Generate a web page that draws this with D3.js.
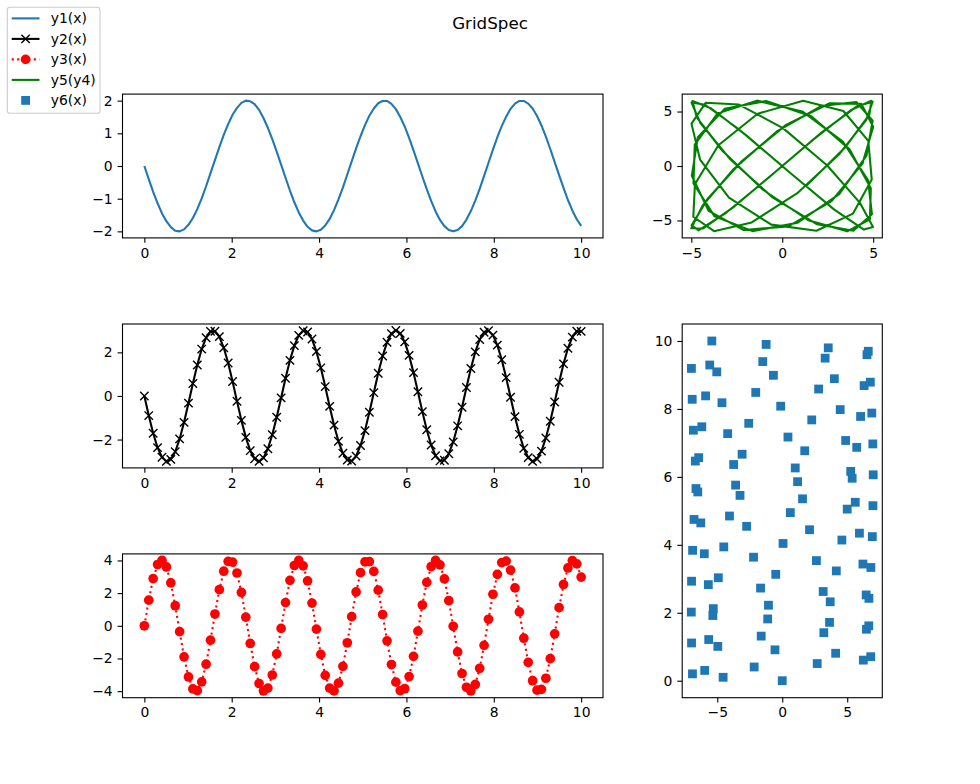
<!DOCTYPE html>
<html>
<head>
<meta charset="utf-8">
<script src="https://cdn.jsdelivr.net/npm/d3@7"></script>
<style>
  body { margin: 0; background: #fff; }
  svg text { font-family: "DejaVu Sans", sans-serif; }
</style>
</head>
<body>
<svg id="chart" width="980" height="784"></svg>
<script>
// sample positions shared by every series
const xs = [0, 0.101, 0.202, 0.303, 0.404, 0.505, 0.606, 0.707, 0.808, 0.909,
  1.010, 1.111, 1.212, 1.313, 1.414, 1.515, 1.616, 1.717, 1.818, 1.919,
  2.020, 2.121, 2.222, 2.323, 2.424, 2.525, 2.626, 2.727, 2.828, 2.929,
  3.030, 3.131, 3.232, 3.333, 3.434, 3.535, 3.636, 3.737, 3.838, 3.939,
  4.040, 4.141, 4.242, 4.343, 4.444, 4.545, 4.646, 4.747, 4.848, 4.949,
  5.051, 5.152, 5.253, 5.354, 5.455, 5.556, 5.657, 5.758, 5.859, 5.960,
  6.061, 6.162, 6.263, 6.364, 6.465, 6.566, 6.667, 6.768, 6.869, 6.970,
  7.071, 7.172, 7.273, 7.374, 7.475, 7.576, 7.677, 7.778, 7.879, 7.980,
  8.081, 8.182, 8.283, 8.384, 8.485, 8.586, 8.687, 8.788, 8.889, 8.990,
  9.091, 9.192, 9.293, 9.394, 9.495, 9.596, 9.697, 9.798, 9.899, 10];

const y1 = [0, -0.40, -0.79, -1.14, -1.45, -1.69, -1.87, -1.98, -2.00, -1.94,
  -1.80, -1.59, -1.32, -0.99, -0.62, -0.22, 0.18, 0.58, 0.95, 1.28,
  1.57, 1.78, 1.93, 2.00, 1.98, 1.89, 1.72, 1.47, 1.17, 0.82,
  0.44, 0.04, -0.36, -0.75, -1.11, -1.42, -1.67, -1.86, -1.97, -2.00,
  -1.95, -1.82, -1.62, -1.35, -1.02, -0.66, -0.26, 0.14, 0.54, 0.91,
  1.25, 1.54, 1.76, 1.92, 1.99, 1.99, 1.90, 1.74, 1.50, 1.21,
  0.86, 0.48, 0.08, -0.32, -0.71, -1.07, -1.39, -1.65, -1.84, -1.96,
  -2.00, -1.96, -1.84, -1.64, -1.38, -1.06, -0.70, -0.30, 0.10, 0.50,
  0.88, 1.22, 1.51, 1.75, 1.91, 1.99, 1.99, 1.91, 1.76, 1.53,
  1.24, 0.90, 0.52, 0.12, -0.28, -0.67, -1.04, -1.36, -1.63, -1.83];

const y2 = [0, -0.90, -1.71, -2.37, -2.81, -3.00, -2.91, -2.56, -1.97, -1.21,
  -0.33, 0.57, 1.42, 2.15, 2.67, 2.96, 2.97, 2.72, 2.21, 1.51,
  0.66, -0.24, -1.12, -1.90, -2.51, -2.88, -3.00, -2.84, -2.42, -1.78,
  -0.98, -0.09, 0.81, 1.63, 2.31, 2.78, 2.99, 2.93, 2.61, 2.04,
  1.29, 0.43, -0.48, -1.34, -2.08, -2.63, -2.94, -2.99, -2.76, -2.27,
  -1.59, -0.75, 0.15, 1.04, 1.83, 2.46, 2.86, 3.00, 2.87, 2.48,
  1.86, 1.07, 0.19, -0.72, -1.55, -2.25, -2.74, -2.98, -2.95, -2.65,
  -2.11, -1.37, -0.52, 0.39, 1.26, 2.02, 2.59, 2.92, 2.99, 2.79,
  2.33, 1.66, 0.84, -0.06, -0.95, -1.76, -2.40, -2.83, -3.00, -2.89,
  -2.53, -1.93, -1.16, -0.28, 0.63, 1.47, 2.19, 2.70, 2.97, 2.96];

const y3 = [0, 1.57, 2.89, 3.75, 4.00, 3.60, 2.63, 1.23, -0.36, -1.90,
  -3.13, -3.86, -3.97, -3.43, -2.35, -0.88, 0.72, 2.21, 3.34, 3.94,
  3.90, 3.23, 2.04, 0.53, -1.08, -2.50, -3.53, -3.99, -3.81, -3.01,
  -1.72, -0.16, 1.42, 2.78, 3.69, 4.00, 3.67, 2.75, 1.39, -0.20,
  -1.75, -3.03, -3.81, -3.98, -3.51, -2.48, -1.04, 0.56, 2.07, 3.25,
  3.91, 3.93, 3.33, 2.18, 0.69, -0.92, -2.37, -3.45, -3.97, -3.85,
  -3.11, -1.87, -0.33, 1.27, 2.66, 3.62, 4.00, 3.73, 2.87, 1.54,
  -0.03, -1.60, -2.92, -3.76, -3.99, -3.59, -2.60, -1.20, 0.40, 1.93,
  3.15, 3.87, 3.96, 3.41, 2.32, 0.85, -0.76, -2.24, -3.36, -3.94,
  -3.89, -3.21, -2.01, -0.49, 1.11, 2.53, 3.54, 3.99, 3.79, 2.98];

const y4 = [0, -2.42, -4.24, -4.99, -4.50, -2.89, -0.56, 1.92, 3.91, 4.93,
  4.72, 3.33, 1.10, -1.39, -3.54, -4.81, -4.88, -3.72, -1.64, 0.85,
  3.13, 4.63, 4.97, 4.07, 2.16, -0.30, -2.68, -4.39, -5.00, -4.37,
  -2.64, -0.26, 2.19, 4.10, 4.97, 4.61, 3.10, 0.81, -1.68, -3.75,
  -4.89, -4.80, -3.51, -1.35, 1.15, 3.36, 4.73, 4.92, 3.89, 1.88,
  -0.60, -2.93, -4.52, -4.99, -4.21, -2.38, 0.04, 2.46, 4.26, 4.99,
  4.49, 2.86, 0.51, -1.96, -3.94, -4.94, -4.70, -3.29, -1.06, 1.43,
  3.57, 4.82, 4.87, 3.69, 1.60, -0.89, -3.16, -4.64, -4.97, -4.05,
  -2.12, 0.34, 2.71, 4.41, 5.00, 4.35, 2.61, 0.21, -2.23, -4.12,
  -4.98, -4.60, -3.07, -0.77, 1.72, 3.78, 4.90, 4.79, 3.48, 1.31];

const y5 = [0, 3.42, 5.62, 5.82, 3.95, 0.67, -2.85, -5.35, -5.95, -4.42,
  -1.32, 2.25, 5.01, 6.00, 4.85, 1.97, -1.61, -4.62, -5.98, -5.21,
  -2.59, 0.96, 4.17, 5.88, 5.51, 3.17, -0.30, -3.66, -5.72, -5.74,
  -3.72, -0.37, 3.11, 5.48, 5.90, 4.22, 1.03, -2.52, -5.18, -5.98,
  -4.66, -1.68, 1.90, 4.80, 6.00, 5.05, 2.31, -1.25, -4.37, -5.94,
  -5.38, -2.91, 0.59, 3.89, 5.80, 5.64, 3.48, 0.07, -3.36, -5.59,
  -5.84, -4.00, -0.74, 2.79, 5.32, 5.96, 4.47, 1.40, -2.18, -4.98,
  -6.00, -4.89, -2.04, 1.55, 4.57, 5.97, 5.25, 2.65, -0.89, -4.12,
  -5.88, -5.54, -3.23, 0.22, 3.60, 5.70, 5.76, 3.77, 0.44, -3.05,
  -5.45, -5.91, -4.27, -1.10, 2.45, 5.14, 5.99, 4.71, 1.75, -1.83];

const y6 = [0, -4.55, -6.91, -5.97, -2.16, 2.69, 6.24, 6.81, 4.11, -0.56,
  -4.96, -6.98, -5.66, -1.62, 3.20, 6.48, 6.66, 3.64, -1.12, -5.34,
  -7.00, -5.31, -1.06, 3.69, 6.67, 6.46, 3.15, -1.67, -5.69, -6.98,
  -4.92, -0.50, 4.16, 6.82, 6.21, 2.63, -2.21, -6.00, -6.90, -4.50,
  0.06, 4.59, 6.93, 5.94, 2.10, -2.74, -6.27, -6.79, -4.06, 0.62,
  5.00, 6.98, 5.62, 1.56, -3.25, -6.50, -6.64, -3.59, 1.18, 5.38,
  7.00, 5.27, 1.00, -3.74, -6.69, -6.43, -3.09, 1.73, 5.73, 6.97,
  4.88, 0.44, -4.20, -6.84, -6.19, -2.58, 2.27, 6.03, 6.89, 4.46,
  -0.12, -4.64, -6.93, -5.90, -2.04, 2.80, 6.30, 6.78, 4.01, -0.68,
  -5.04, -6.99, -5.58, -1.50, 3.30, 6.52, 6.62, 3.54, -1.24, -5.42];

const legendLabels = ["y1(x)", "y2(x)", "y3(x)", "y5(y4)", "y6(x)"];
const xTicksLeft = [0, 2, 4, 6, 8, 10];
const yTicks1 = [-2, -1, 0, 1, 2];
const yTicks2 = [-2, 0, 2];
const yTicks3 = [-4, -2, 0, 2, 4];
const ticksLissajous = [-5, 0, 5];
const xTicksScatter = [-5, 0, 5];
const yTicksScatter = [0, 2, 4, 6, 8, 10];

const BLUE = "#1f77b4";
const FS = 13.9;

const svg = d3.select("#chart");
svg.append("rect").attr("width", 980).attr("height", 784).attr("fill", "#fff");

const fmt = d => d < 0 ? "\u2212" + Math.abs(d) : String(d);

function panel(box, xDom, yDom, xTicks, yTicks) {
    const x = d3.scaleLinear().domain(xDom).range([box.x, box.x + box.w]);
    const y = d3.scaleLinear().domain(yDom).range([box.y + box.h, box.y]);
    const g = svg.append("g");
    g.append("rect")
        .attr("x", box.x).attr("y", box.y)
        .attr("width", box.w).attr("height", box.h)
        .attr("fill", "#fff");
    const marks = g.append("g");
    const ax = g.append("g")
        .attr("transform", `translate(0,${box.y + box.h})`)
        .call(d3.axisBottom(x).tickValues(xTicks).tickFormat(fmt).tickSize(4.9).tickPadding(4.9));
    const ay = g.append("g")
        .attr("transform", `translate(${box.x},0)`)
        .call(d3.axisLeft(y).tickValues(yTicks).tickFormat(fmt).tickSize(4.9).tickPadding(4.9));
    for (const a of [ax, ay]) {
        a.select(".domain").remove();
        a.selectAll("line").attr("stroke", "#000").attr("stroke-width", 1.1);
        a.selectAll("text").attr("fill", "#000").style("font-size", FS + "px")
            .style("font-family", "'DejaVu Sans', sans-serif");
    }
    g.append("rect")
        .attr("x", box.x).attr("y", box.y)
        .attr("width", box.w).attr("height", box.h)
        .attr("fill", "none").attr("stroke", "#000").attr("stroke-width", 1.1);
    return {x, y, marks};
}

const rows = [94.1, 324.0, 553.9];
const rowH = 143.8;
const leftCol = {x: 122.5, w: 480.5};
const rightCol = {x: 682.2, w: 200.1};

const idx = d3.range(xs.length);

// y1(x)
const p1 = panel({x: leftCol.x, y: rows[0], w: leftCol.w, h: rowH}, [-0.5, 10.5], [-2.2, 2.2], xTicksLeft, yTicks1);
p1.marks.append("path")
    .attr("d", d3.line().x(i => p1.x(xs[i])).y(i => p1.y(y1[i]))(idx))
    .attr("fill", "none").attr("stroke", BLUE).attr("stroke-width", 2.08)
    .attr("stroke-linejoin", "round");

// y2(x)
const p2 = panel({x: leftCol.x, y: rows[1], w: leftCol.w, h: rowH + 0.1}, [-0.5, 10.5], [-3.3, 3.3], xTicksLeft, yTicks2);
p2.marks.append("path")
    .attr("d", d3.line().x(i => p2.x(xs[i])).y(i => p2.y(y2[i]))(idx))
    .attr("fill", "none").attr("stroke", "#000").attr("stroke-width", 2.08)
    .attr("stroke-linejoin", "round");
const cross = "M-4.2,-4.2L4.2,4.2M-4.2,4.2L4.2,-4.2";
p2.marks.selectAll(".mx").data(idx).join("path")
    .attr("d", cross)
    .attr("transform", i => `translate(${p2.x(xs[i])},${p2.y(y2[i])})`)
    .attr("fill", "none").attr("stroke", "#000").attr("stroke-width", 1.4);

// y3(x)
const p3 = panel({x: leftCol.x, y: rows[2], w: leftCol.w, h: rowH}, [-0.5, 10.5], [-4.4, 4.4], xTicksLeft, yTicks3);
p3.marks.append("path")
    .attr("d", d3.line().x(i => p3.x(xs[i])).y(i => p3.y(y3[i]))(idx))
    .attr("fill", "none").attr("stroke", "red").attr("stroke-width", 2.08)
    .attr("stroke-dasharray", "2.08,3.43");
p3.marks.selectAll("circle").data(idx).join("circle")
    .attr("cx", i => p3.x(xs[i])).attr("cy", i => p3.y(y3[i]))
    .attr("r", 4.85).attr("fill", "red");

// y5(y4)
const p4 = panel({x: rightCol.x, y: rows[0], w: rightCol.w, h: rowH}, [-5.5, 5.5], [-6.6, 6.6], ticksLissajous, ticksLissajous);
p4.marks.append("path")
    .attr("d", d3.line().x(i => p4.x(y4[i])).y(i => p4.y(y5[i]))(idx))
    .attr("fill", "none").attr("stroke", "green").attr("stroke-width", 2.08)
    .attr("stroke-linejoin", "round");

// y6(x)
const p5 = panel({x: rightCol.x, y: rows[1], w: rightCol.w, h: rows[2] + rowH - rows[1]}, [-7.7, 7.7], [-0.5, 10.5], xTicksScatter, yTicksScatter);
p5.marks.selectAll("rect").data(idx).join("rect")
    .attr("x", i => p5.x(y6[i]) - 4.4).attr("y", i => p5.y(xs[i]) - 4.4)
    .attr("width", 8.8).attr("height", 8.8).attr("fill", BLUE);

// title
svg.append("text")
    .attr("x", 490).attr("y", 28.5)
    .attr("text-anchor", "middle")
    .style("font-size", "16.7px")
    .text("GridSpec");

// figure legend, upper left
const lg = svg.append("g");
lg.append("rect")
    .attr("x", 7.3).attr("y", 7.3).attr("width", 92.7).attr("height", 106)
    .attr("rx", 2.8)
    .attr("fill", "#fff").attr("fill-opacity", 0.8)
    .attr("stroke", "#cccccc").attr("stroke-width", 1.1);
const rowY = i => 18.4 + i * 20.5;
legendLabels.forEach((lab, i) => {
    const cy = rowY(i);
    const row = lg.append("g");
    if (i === 0 || i === 1 || i === 3) {
        row.append("line").attr("x1", 11.7).attr("x2", 39.5).attr("y1", cy).attr("y2", cy)
            .attr("stroke", i === 0 ? BLUE : i === 1 ? "#000" : "green").attr("stroke-width", 2.08);
    }
    if (i === 1) {
        row.append("path").attr("d", cross).attr("transform", `translate(25.6,${cy})`)
            .attr("fill", "none").attr("stroke", "#000").attr("stroke-width", 1.4);
    }
    if (i === 2) {
        row.append("line").attr("x1", 11.7).attr("x2", 39.5).attr("y1", cy).attr("y2", cy)
            .attr("stroke", "red").attr("stroke-width", 2.08).attr("stroke-dasharray", "2.08,3.43");
        row.append("circle").attr("cx", 25.6).attr("cy", cy).attr("r", 4.85).attr("fill", "red");
    }
    if (i === 4) {
        row.append("rect").attr("x", 25.6 - 4.4).attr("y", cy - 4.4)
            .attr("width", 8.8).attr("height", 8.8).attr("fill", BLUE);
    }
    row.append("text").attr("x", 50.7).attr("y", cy + 5)
        .style("font-size", FS + "px").text(lab);
});
</script>
</body>
</html>
